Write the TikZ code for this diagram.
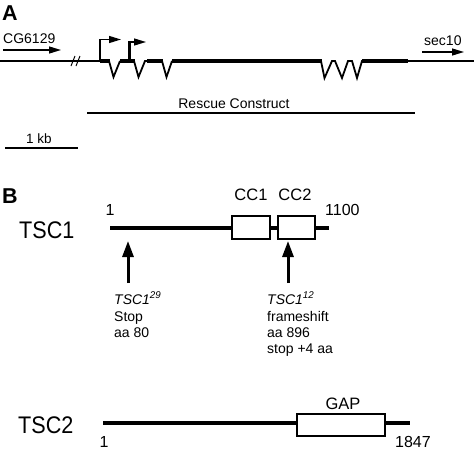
\documentclass[tikz,border=0pt]{standalone}
\usepackage{fontspec}
\setmainfont{Liberation Sans}
\newfontfamily\narrowsans[FakeStretch=0.9]{Liberation Sans}
\usetikzlibrary{arrows.meta}
\begin{document}
\begin{tikzpicture}[x=1pt,y=-1pt,
  thinln/.style={line width=1.3pt},
  thickln/.style={line width=3.2pt},
  intron/.style={line width=1.8pt,line join=miter},
  smallarrow/.style={line width=1.3pt,-{Triangle[length=12pt,width=7pt]}},
  bigarrow/.style={line width=3pt,-{Triangle[length=16pt,width=11pt]}},
  dombox/.style={draw,line width=1.2pt,fill=white,inner sep=0pt},
  lbl/.style={inner sep=0pt},
  note/.style={inner sep=0pt,anchor=base west,font=\fontsize{14}{14}\selectfont},
  protname/.style={inner sep=0pt,anchor=base west,font=\narrowsans\fontsize{24}{24}\selectfont},
  panel/.style={inner sep=0pt,font=\bfseries\fontsize{21.5}{21.5}\selectfont}]
\useasboundingbox (0,0) rectangle (474,450);
% ---------- Panel A
\node[panel,anchor=base west] (A) at (2,20) {A};
\coordinate (g0) at (0,61);
\coordinate (gs) at (100,61);
\coordinate (ge) at (408,61);
\coordinate (g1) at (474,61);
\draw[thinln] (g0) -- (gs);
\draw[thinln] (ge) -- (g1);
% break marks
\draw[line width=1pt] (71,66) -- (75,56) (76,66) -- (80,56);
% exons / introns
\draw[thickln] (gs) -- (110,61) (120,61) -- (135,61) (147,61) -- (163,61) (172,61) -- (322,61) (362,61) -- (ge);
\draw[intron] (109,61) -- (113.5,77) -- (120,61);
\draw[intron] (134,61) -- (138.5,77) -- (145,61) -- (148,61);
\draw[intron] (162,61) -- (166.5,77) -- (172,61);
\draw[intron] (321,61) -- (324.5,78) -- (332,61) -- (335,61) -- (342,78) -- (348,61) -- (352,61) -- (357,78) -- (362,61) -- (363,61);
% promoters
\coordinate (p1) at (100,61);
\coordinate (p1t) at (100,39.5);
\coordinate (p1e) at (121,39.5);
\draw[thinln] (p1) -- (p1t);
\draw[smallarrow] ([xshift=-0.65pt]p1t) -- (p1e);
\coordinate (p2) at (129.5,61);
\coordinate (p2t) at (129.5,42);
\coordinate (p2e) at (146,42);
\draw[line width=3pt] (p2) -- ([yshift=-0.6pt]p2t);
\draw[smallarrow] ([xshift=-1.5pt]p2t) -- (p2e);
% flanking genes
\node[lbl,anchor=base west,font=\fontsize{14}{14}\selectfont] (cg) at (3,43.5) {CG6129};
\coordinate (cga) at (3,50);
\coordinate (cgb) at (61,50);
\draw[smallarrow] (cga) -- (cgb);
\node[lbl,anchor=base west,font=\fontsize{14}{14}\selectfont] (sec) at (424,45) {sec10};
\coordinate (seca) at (422,52);
\coordinate (secb) at (464,52);
\draw[smallarrow] (seca) -- (secb);
% rescue construct
\node[lbl,anchor=base,font=\fontsize{14}{14}\selectfont] (rc) at (234,108) {Rescue Construct};
\coordinate (rca) at (87,113);
\coordinate (rcb) at (415,113);
\draw[thinln] (rca) -- (rcb);
% scale bar
\node[lbl,anchor=base,font=\fontsize{13.5}{13.5}\selectfont] (kb) at (39,143) {1 kb};
\coordinate (kba) at (5,148);
\coordinate (kbb) at (78,148);
\draw[thinln] (kba) -- (kbb);
% ---------- Panel B
\node[panel,anchor=base west] (B) at (2,203.5) {B};
\node[protname] (tsc1) at (19,238) {TSC1};
\coordinate (t1a) at (110,228);
\coordinate (t1b) at (329,228);
\draw[thickln] (t1a) -- (t1b);
\node[dombox,minimum width=38pt,minimum height=23pt] (cc1) at (251,227.5) {};
\node[dombox,minimum width=37pt,minimum height=23pt] (cc2) at (296.5,227.5) {};
\node[lbl,anchor=base,font=\fontsize{16.5}{16.5}\selectfont] (cc1l) at (251,200) {CC1};
\node[lbl,anchor=base,font=\fontsize{16.5}{16.5}\selectfont] (cc2l) at (295,200) {CC2};
\node[lbl,anchor=base,font=\fontsize{16}{16}\selectfont] (one1) at (110,215) {1};
\node[lbl,anchor=base west,font=\fontsize{16}{16}\selectfont] (n1100) at (325,215) {1100};
% mutations
\coordinate (m1b) at (128,283);
\coordinate (m1t) at (128,241);
\draw[bigarrow] (m1b) -- (m1t);
\coordinate (m2b) at (288,283);
\coordinate (m2t) at (288,241);
\draw[bigarrow] (m2b) -- (m2t);
\node[note] (m29a) at (114,304) {\textit{TSC1\textsuperscript{29}}};
\node[note] (m29b) at (114,321) {Stop};
\node[note] (m29c) at (114,337) {aa 80};
\node[note] (m12a) at (267,304) {\textit{TSC1\textsuperscript{12}}};
\node[note] (m12b) at (267,321) {frameshift};
\node[note] (m12c) at (267,337) {aa 896};
\node[note] (m12d) at (267,353) {stop +4 aa};
% TSC2
\node[protname] (tsc2) at (18,433) {TSC2};
\coordinate (t2a) at (103,423);
\coordinate (t2b) at (410,423);
\draw[thickln] (t2a) -- (t2b);
\node[dombox,minimum width=88pt,minimum height=22pt] (gap) at (341,425) {};
\node[lbl,anchor=base,font=\fontsize{16.5}{16.5}\selectfont] (gapl) at (343,409) {GAP};
\node[lbl,anchor=base,font=\fontsize{16}{16}\selectfont] (one2) at (104,447.5) {1};
\node[lbl,anchor=base,font=\fontsize{16}{16}\selectfont] (n1847) at (413,447.5) {1847};
\end{tikzpicture}
\end{document}
